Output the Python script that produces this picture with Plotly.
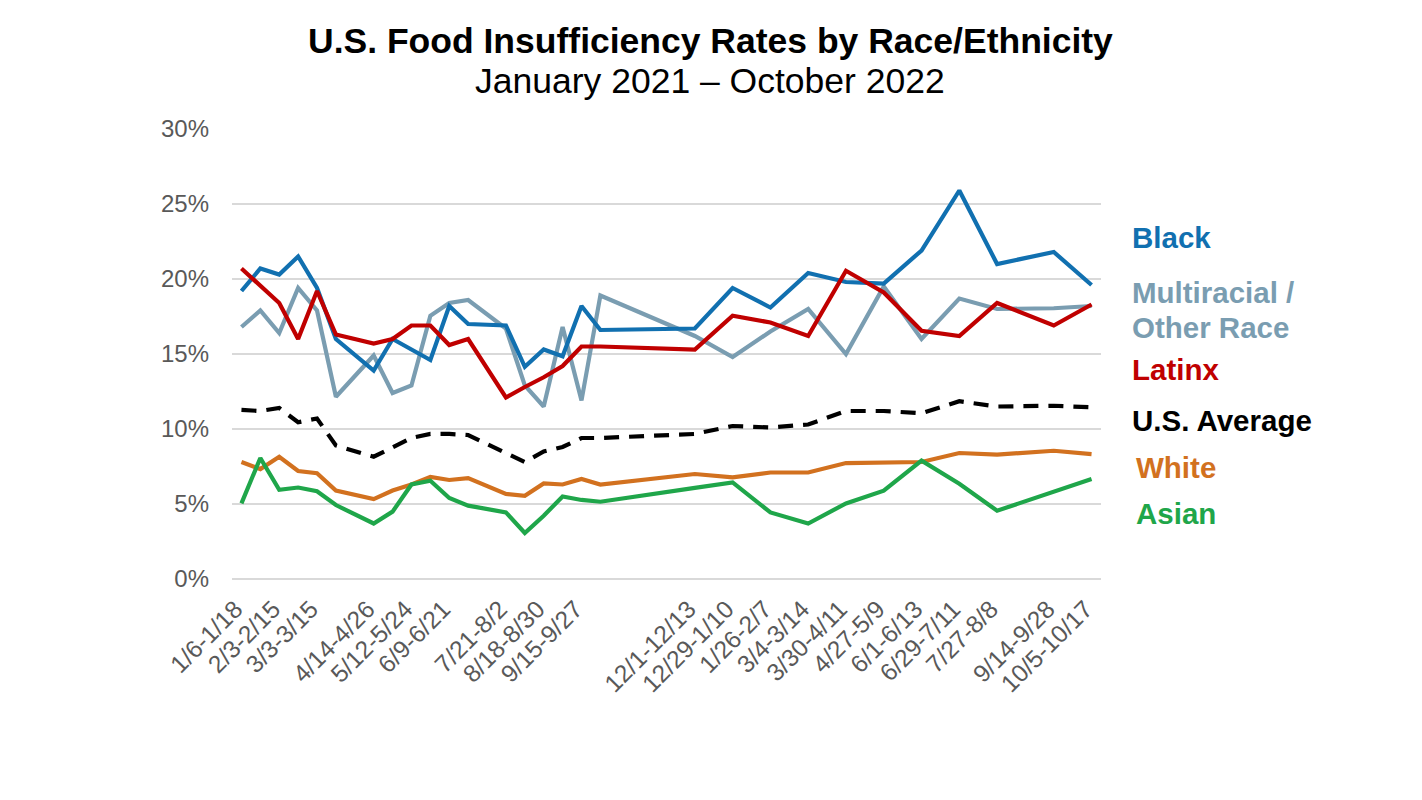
import plotly.graph_objects as go

# Survey periods placed on an evenly spaced biweekly slot axis (gaps where no survey ran)
periods = ["1/6-1/18", "1/20-2/1", "2/3-2/15", "2/17-3/1", "3/3-3/15", "3/17-3/29",
           "4/14-4/26", "4/28-5/10", "5/12-5/24", "5/26-6/7", "6/9-6/21", "6/23-7/5",
           "7/21-8/2", "8/4-8/16", "8/18-8/30", "9/1-9/13", "9/15-9/27", "9/29-10/11",
           "12/1-12/13", "12/29-1/10", "1/26-2/7", "3/4-3/14", "3/30-4/11", "4/27-5/9",
           "6/1-6/13", "6/29-7/11", "7/27-8/8", "9/14-9/28", "10/5-10/17"]
slot = [0, 1, 2, 3, 4, 5, 7, 8, 9, 10, 11, 12, 14, 15, 16, 17, 18, 19,
        24, 26, 28, 30, 32, 34, 36, 38, 40, 43, 45]

black = [19.2, 20.7, 20.3, 21.5, 19.4, 16.0, 13.9, 16.0, 15.3, 14.6, 18.2, 17.0,
         16.9, 14.15, 15.3, 14.85, 18.2, 16.6, 16.7, 19.4, 18.1, 20.4, 19.8, 19.7,
         21.9, 25.9, 21.0, 21.8, 19.6]
multiracial = [16.8, 17.9, 16.4, 19.4, 17.9, 12.15, 14.9, 12.4, 12.9, 17.55, 18.4, 18.6,
               16.7, 12.9, 11.5, 16.8, 11.9, 18.9, 16.2, 14.8, 16.5, 18.0, 15.0, 19.5,
               16.0, 18.7, 18.0, 18.05, 18.2]
latinx = [20.7, 19.55, 18.4, 16.0, 19.2, 16.3, 15.7, 16.0, 16.9, 16.9, 15.6, 16.0,
          12.1, 12.8, 13.45, 14.2, 15.5, 15.5, 15.3, 17.55, 17.1, 16.2, 20.55, 19.1,
          16.55, 16.2, 18.4, 16.9, 18.3]
us_average = [11.27, 11.2, 11.4, 10.45, 10.7, 8.9, 8.15, 8.8, 9.4, 9.67, 9.67, 9.6,
              8.4, 7.8, 8.5, 8.8, 9.4, 9.4, 9.67, 10.2, 10.1, 10.3, 11.2, 11.2,
              11.05, 11.85, 11.5, 11.55, 11.45]
white = [7.8, 7.33, 8.15, 7.2, 7.05, 5.9, 5.33, 5.9, 6.3, 6.8, 6.6, 6.73,
         5.67, 5.55, 6.37, 6.3, 6.67, 6.3, 7.0, 6.78, 7.1, 7.1, 7.73, 7.77,
         7.8, 8.4, 8.29, 8.55, 8.33]
asian = [5.04, 8.07, 5.95, 6.1, 5.85, 4.93, 3.7, 4.49, 6.3, 6.55, 5.4, 4.89,
         4.44, 3.07, 4.22, 5.5, 5.27, 5.15, 6.07, 6.44, 4.44, 3.7, 5.04, 5.89,
         7.89, 6.35, 4.55, 5.8, 6.67]

tick_slot = [0, 2, 4, 7, 9, 11, 14, 16, 18, 24, 26, 28, 30, 32, 34, 36, 38, 40, 43, 45]
tick_labels = ["1/6-1/18", "2/3-2/15", "3/3-3/15", "4/14-4/26", "5/12-5/24", "6/9-6/21",
               "7/21-8/2", "8/18-8/30", "9/15-9/27", "12/1-12/13", "12/29-1/10",
               "1/26-2/7", "3/4-3/14", "3/30-4/11", "4/27-5/9", "6/1-6/13",
               "6/29-7/11", "7/27-8/8", "9/14-9/28", "10/5-10/17"]

y_ticks = [0, 5, 10, 15, 20, 25, 30]
y_labels = ["0%", "5%", "10%", "15%", "20%", "25%", "30%"]

C_BLACK = "#1170B0"
C_MULTI = "#7A9DB1"
C_LATINX = "#C00000"
C_AVG = "#000000"
C_WHITE = "#D2711F"
C_ASIAN = "#1FA64A"

series = [
    ("Multiracial / Other Race", multiracial, C_MULTI, "solid"),
    ("Black", black, C_BLACK, "solid"),
    ("Latinx", latinx, C_LATINX, "solid"),
    ("U.S. Average", us_average, C_AVG, "15px,10px"),
    ("White", white, C_WHITE, "solid"),
    ("Asian", asian, C_ASIAN, "solid"),
]

fig = go.Figure()
for name, vals, color, dash in series:
    fig.add_trace(go.Scatter(
        x=slot, y=vals, mode="lines", name=name,
        text=periods,
        line=dict(color=color, width=4.2, dash=dash),
        hovertemplate="%{text}: %{y:.1f}%<extra>" + name + "</extra>",
    ))

FONT = "Liberation Sans, Arial, sans-serif"

fig.update_layout(
    width=1422, height=800,
    margin=dict(l=224, r=329, t=121, b=229, autoexpand=False),
    paper_bgcolor="white", plot_bgcolor="white",
    showlegend=False,
    font=dict(family=FONT, color="#595959"),
    xaxis=dict(
        range=[-0.5, 45.5], automargin=False,
        tickmode="array", tickvals=tick_slot, ticktext=tick_labels,
        tickangle=-45, tickfont=dict(size=24.5, color="#595959"),
        showgrid=False, zeroline=False, showline=False, ticks="",
        ticklabelstandoff=10, ticklabelshift=-6,
    ),
    yaxis=dict(
        range=[0, 30], automargin=False,
        tickmode="array", tickvals=y_ticks, ticktext=y_labels,
        tickfont=dict(size=24, color="#595959"),
        showgrid=True, gridcolor="#D9D9D9", gridwidth=1.5,
        zeroline=True, zerolinecolor="#D9D9D9", zerolinewidth=1.5,
        showline=False, ticks="",
        ticklabelstandoff=22,
    ),
)

annotations = [
    dict(text="<b>U.S. Food Insufficiency Rates by Race/Ethnicity</b>", x=0.5504, y=1.196,
         font=dict(size=35.5, color="#000000")),
    dict(text="January 2021 \u2013 October 2022", x=0.5504, y=1.107,
         font=dict(size=35.5, color="#000000")),
]
for a in annotations:
    a.update(xref="paper", yref="paper", xanchor="center", yanchor="middle", showarrow=False,
             font=dict(family=FONT, size=a["font"]["size"], color=a["font"]["color"]))

labels = [
    ("<b>Black</b>", 1.0337, 0.7584, C_BLACK),
    ("<b>Multiracial /</b>", 1.0337, 0.6356, C_MULTI),
    ("<b>Other Race</b>", 1.0337, 0.5600, C_MULTI),
    ("<b>Latinx</b>", 1.0337, 0.4651, C_LATINX),
    ("<b>U.S. Average</b>", 1.0337, 0.3518, C_AVG),
    ("<b>White</b>", 1.0383, 0.2473, C_WHITE),
    ("<b>Asian</b>", 1.0383, 0.1451, C_ASIAN),
]
for text, x, y, color in labels:
    annotations.append(dict(text=text, x=x, y=y, xref="paper", yref="paper",
                            xanchor="left", yanchor="middle", showarrow=False,
                            font=dict(family=FONT, size=29.5, color=color)))

fig.update_layout(annotations=annotations)

fig.write_html("out.html")
